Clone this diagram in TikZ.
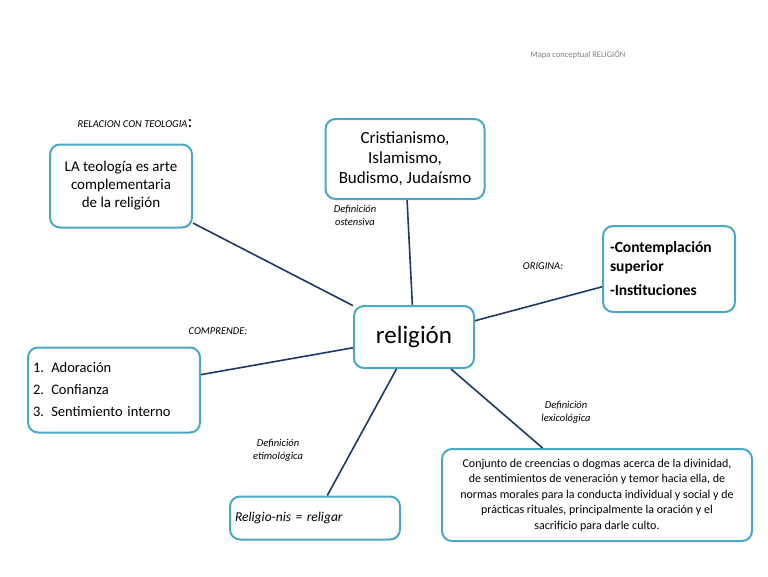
\documentclass[tikz,border=0pt]{standalone}
\usepackage{fontspec}
\setmainfont{Carlito}
\begin{document}
\begin{tikzpicture}[x=1pt,y=-1pt,
  box/.style={draw=boxc,line width=2pt,rounded corners=10pt,fill=white,inner sep=4pt},
  conn/.style={draw=linec,line width=1.6pt},
  lab/.style={font=\itshape\fontsize{10.5}{13}\selectfont,align=center}]
\definecolor{boxc}{RGB}{75,168,196}
\definecolor{linec}{RGB}{31,56,100}
\useasboundingbox (0,0) rectangle (768,576);
\node[box,minimum width=142pt,minimum height=83pt,align=center,font=\fontsize{15}{18}\selectfont] (t) at (121,186) {LA teología es arte\\complementaria\\de la religión};
\node[box,minimum width=159pt,minimum height=80pt,align=center,font=\fontsize{17}{20}\selectfont] (c) at (405,159) {Cristianismo,\\Islamismo,\\Budismo, Judaísmo};
\node[box,minimum width=132pt,minimum height=86pt,text width=118pt,align=left,font=\bfseries\fontsize{15.5}{19}\selectfont] (o) at (669,269) {-Contemplación\\superior\\[5pt]-Instituciones};
\node[box,minimum width=120pt,minimum height=62pt,font=\fontsize{25}{28}\selectfont] (r) at (414,337) {religión};
\node[box,minimum width=172pt,minimum height=85pt,text width=162pt,align=left,font=\fontsize{14.5}{22}\selectfont] (a) at (114,390) {1. Adoración\\2. Confianza\\3. Sentimiento interno};
\node[box,minimum width=170pt,minimum height=43pt,text width=160pt,align=left,font=\itshape\fontsize{13.5}{16}\selectfont] (g) at (315,518) {Religio-nis = religar};
\node[box,minimum width=310pt,minimum height=92pt,align=center,font=\fontsize{12}{15.5}\selectfont] (j) at (597,495) {Conjunto de creencias o dogmas acerca de la divinidad,\\de sentimientos de veneración y temor hacia ella, de\\normas morales para la conducta individual y social y de\\prácticas rituales, principalmente la oración y el\\sacrificio para darle culto.};
\draw[conn] (t) -- (r);
\draw[conn] (c) -- (r);
\draw[conn] (o) -- (r);
\draw[conn] (a) -- (r);
\draw[conn] (g) -- (r);
\draw[conn] (j) -- (r);
\node[lab] (l1) at (135,124) {RELACION CON TEOLOGIA{\upshape\fontsize{18}{18}\selectfont:}};
\node[lab] (l2) at (355,215) {Definición\\ostensiva};
\node[lab] (l3) at (543,266) {ORIGINA:};
\node[lab] (l4) at (218,331) {COMPRENDE:};
\node[lab] (l5) at (566,412) {Definición\\lexicológica};
\node[lab] (l6) at (278,450) {Definición\\etimológica};
\node[font=\fontsize{8.5}{10}\selectfont,text=gray] (l7) at (578,55) {Mapa conceptual RELIGIÓN};
\end{tikzpicture}
\end{document}
